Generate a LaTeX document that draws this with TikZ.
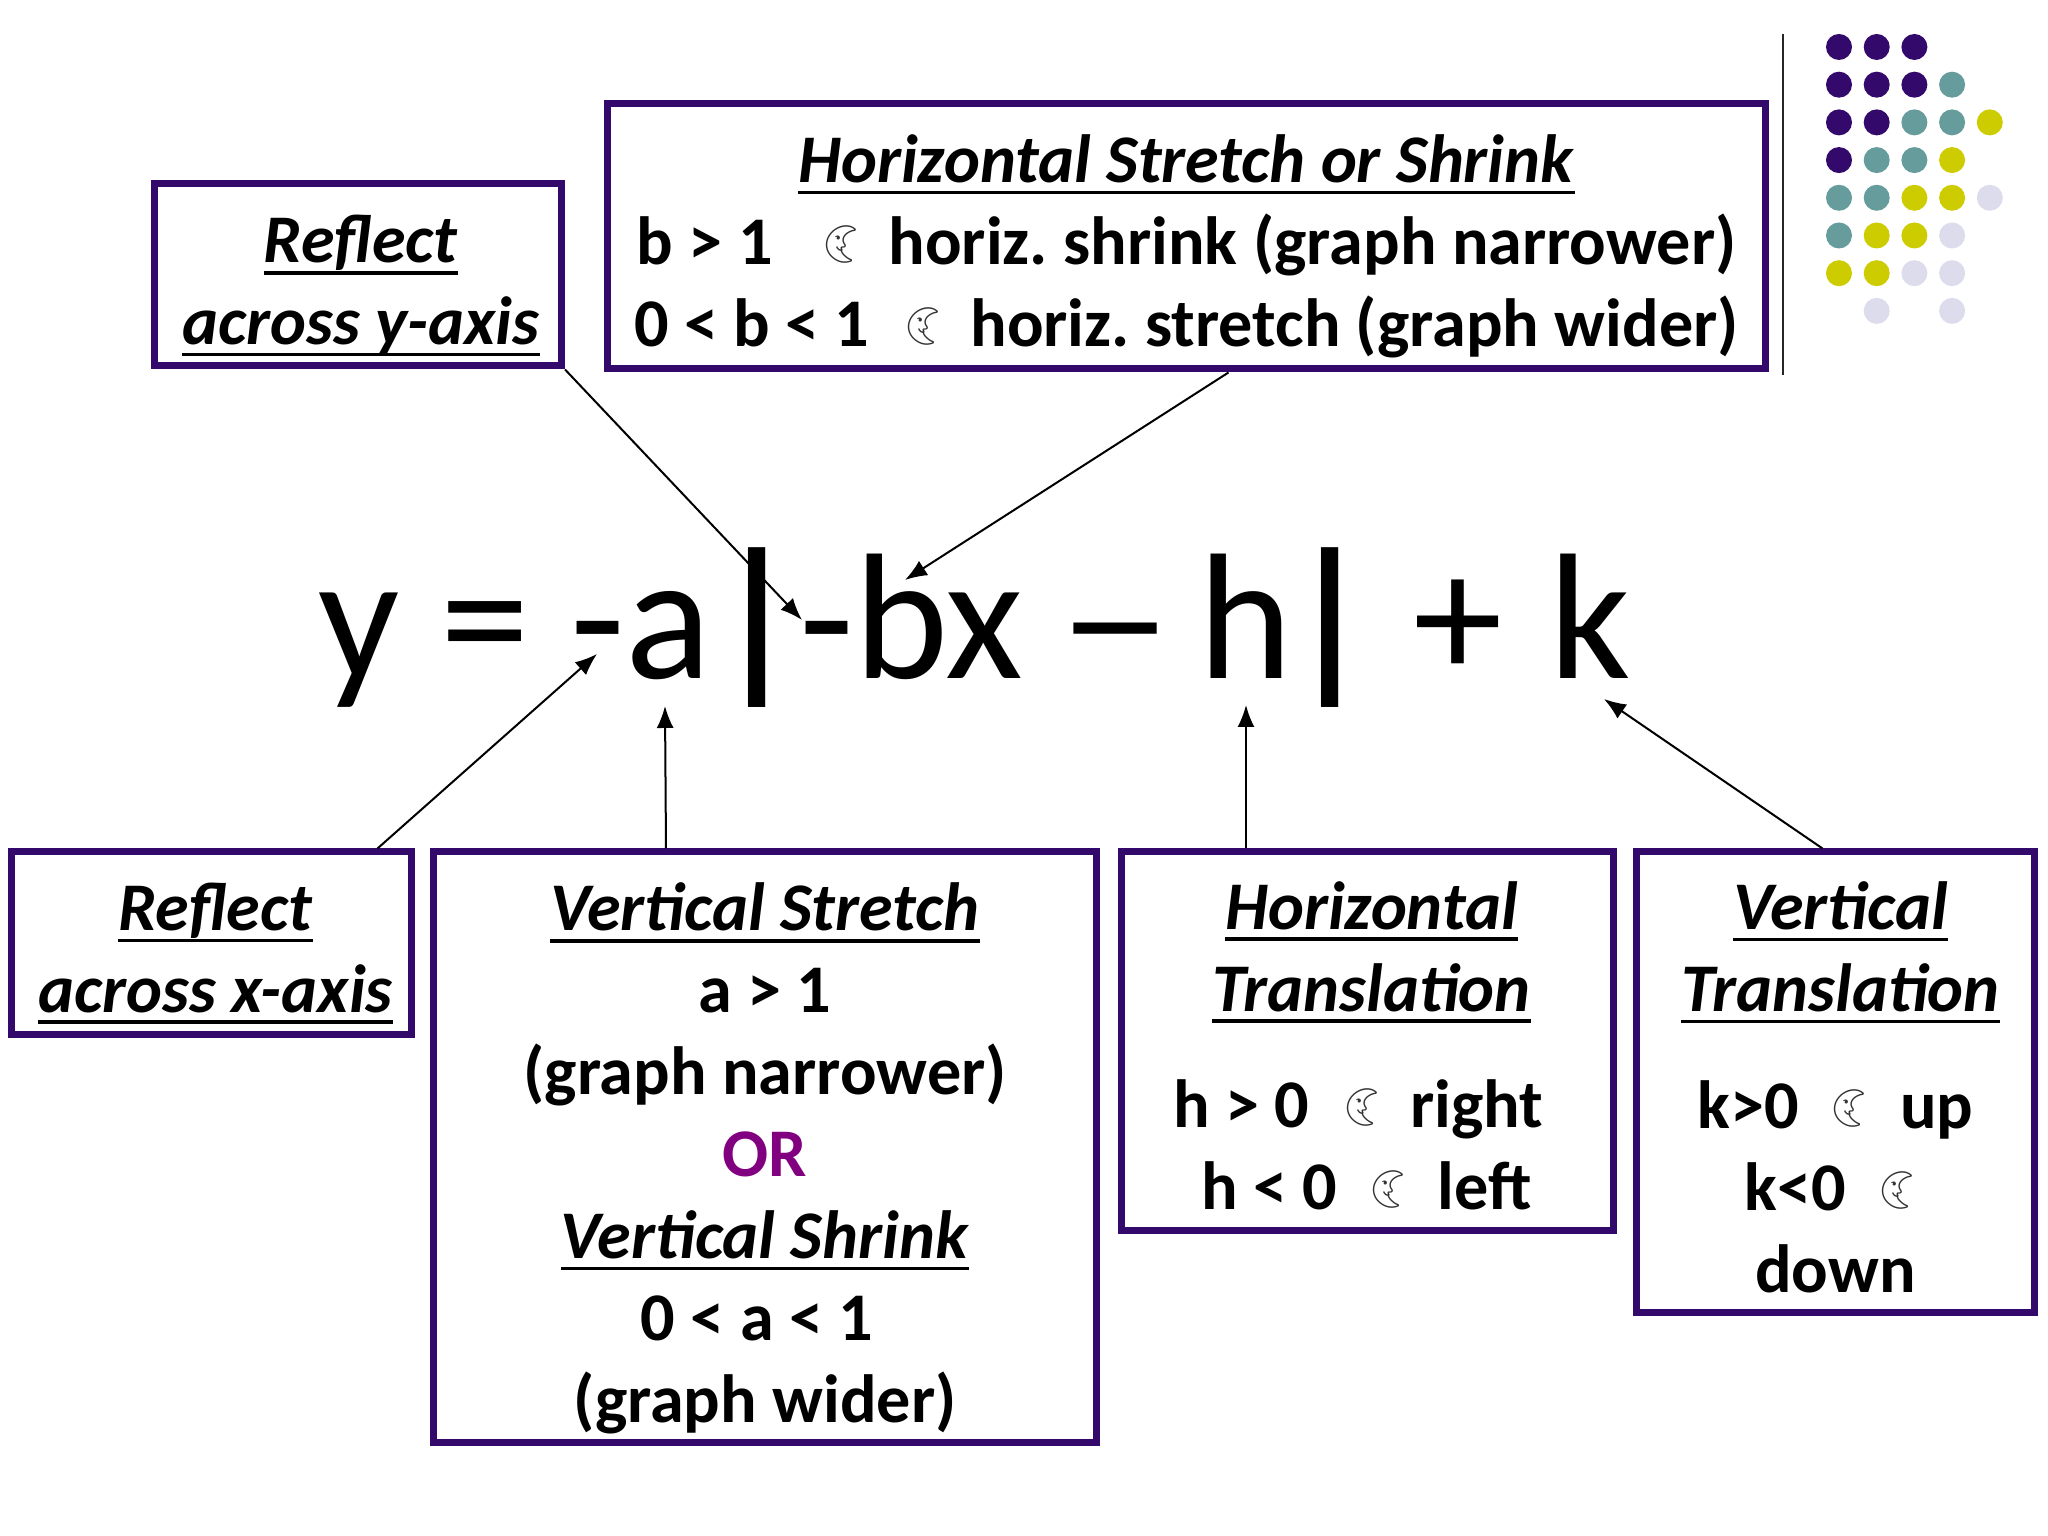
\documentclass[tikz,border=0pt]{standalone}
\usepackage{fontspec}
\setmainfont{Carlito}
\newfontfamily\moonfont{Noto Emoji}
\usetikzlibrary{arrows}
\usetikzlibrary{arrows.meta, positioning, calc}
\definecolor{boxpurple}{HTML}{330A6B}
\definecolor{dotteal}{HTML}{669C9C}
\definecolor{dotyellow}{HTML}{CCCC00}
\definecolor{dotlilac}{HTML}{DCDCEC}
\definecolor{orpurple}{HTML}{800080}
\newcommand{\moon}{\kern-0.13cm\raisebox{0.08cm}{\rotatebox[origin=c]{-40}{\moonfont\fontsize{10.5}{11}\selectfont\color{black!80}\symbol{"1F31C}}}\kern-0.20cm}
\newcommand{\headline}[1]{\setbox0\hbox{\textit{#1}}\rlap{\rule[-3.3pt]{\wd0}{1pt}}\box0}
\tikzset{
  rulebox/.style={draw=boxpurple, line width=0.07cm, inner sep=0pt},
  ruletext/.style={align=center, inner sep=0pt, font=\fontsize{19.4}{23.3}\selectfont\bfseries\frenchspacing},
  pointer/.style={-{Latex[length=0.22cm,width=0.17cm]}, line width=0.02cm, black},
  dot/.style={circle, inner sep=0pt, minimum size=0.26cm}
}
\begin{document}
\begin{tikzpicture}
      \useasboundingbox (0, 0) rectangle (20.48, 15.36);

      % the equation
      \node[anchor=base, font=\fontsize{51}{60}\selectfont, inner sep=0pt] (eqn) at (9.75, 8.57) {y = -a\kern1pt{\bfseries|}-bx\kern-1.8pt\ \scalebox{1.3}[1]{--}\ \kern-4.2pt h\kern-1.5pt{\bfseries|} + \kern1.8pt k};

      % boxes
      \node[rulebox, minimum width=4.07cm, minimum height=1.82cm] (reflecty) at (3.58, 12.61) {};
      \node[rulebox, minimum width=11.58cm, minimum height=2.65cm] (hstretch) at (11.865, 12.995) {};
      \node[rulebox, minimum width=4.00cm, minimum height=1.83cm] (reflectx) at (2.115, 5.925) {};
      \node[rulebox, minimum width=6.63cm, minimum height=5.91cm] (vstretch) at (7.65, 3.885) {};
      \node[rulebox, minimum width=4.92cm, minimum height=3.79cm] (htrans) at (13.675, 4.945) {};
      \node[rulebox, minimum width=3.98cm, minimum height=4.61cm] (vtrans) at (18.355, 4.535) {};

      % box texts
      \node[ruletext] (reflectytext) at ([xshift=0.03cm, yshift=-0.11cm]reflecty.center) {\headline{Reflect}\\\headline{across y-axis}};
      \node[ruletext] (hstretchtext) at ([yshift=-0.10cm]hstretch.center) {\headline{Horizontal Stretch or Shrink}\\b > 1\hspace{0.55cm}\moon\hspace{0.34cm}horiz. shrink (graph narrower)\\0 < b < 1\hspace{0.40cm}\moon\hspace{0.34cm}horiz. stretch (graph wider)};
      \node[ruletext] (reflectxtext) at ([xshift=0.04cm, yshift=-0.10cm]reflectx.center) {\headline{Reflect}\\\headline{across x-axis}};
      \node[ruletext] (vstretchtext) at ([yshift=-0.11cm]vstretch.center) {\headline{Vertical Stretch}\\a > 1\\(graph narrower)\\\textcolor{orpurple}{OR}\\\headline{Vertical Shrink}\\0 < a < 1\kern0.16cm\\(graph wider)};
      \node[ruletext] (htranstext) at ([xshift=0.04cm, yshift=-0.085cm]htrans.center) {\headline{Horizontal}\\\headline{Translation}\\[0.35cm]h > 0\hspace{0.39cm}\moon\hspace{0.35cm}right\kern0.26cm\\h < 0\hspace{0.37cm}\moon\hspace{0.36cm}left\kern0.10cm};
      \node[ruletext] (vtranstext) at ([yshift=-0.05cm]vtrans.center) {\kern0.10cm\headline{Vertical}\\\kern0.10cm\headline{Translation}\\[0.35cm]k>0\hspace{0.37cm}\moon\hspace{0.37cm}up\\k<0\hspace{0.37cm}\moon\kern0.16cm\\down};

      % arrow tips at the equation
      \coordinate (tipminusb) at (8.02, 9.16);
      \coordinate (tipb) at (9.05, 9.56);
      \coordinate (tipminusa) at (5.97, 8.82);
      \coordinate (tipa) at (6.65, 8.30);
      \coordinate (tiph) at (12.46, 8.31);
      \coordinate (tipk) at (16.04, 8.37);

      \draw[pointer] (reflecty.south east) -- (tipminusb);
      \draw[pointer] ([xshift=0.42cm]hstretch.south) -- (tipb);
      \draw[pointer] ([xshift=1.66cm]reflectx.north) -- (tipminusa);
      \draw[pointer] ([xshift=-0.99cm]vstretch.north) -- (tipa);
      \draw[pointer] ([xshift=-1.215cm]htrans.north) -- (tiph);
      \draw[pointer] ([xshift=-0.13cm]vtrans.north) -- (tipk);

      % corner decoration
      \coordinate (ruletop) at (17.83, 15.02);
      \coordinate (rulebottom) at (17.83, 11.61);
      \draw[line width=0.02cm, black!85] (ruletop) -- (rulebottom);

      \foreach \col/\row/\shade in {0/0/boxpurple, 1/0/boxpurple, 2/0/boxpurple,
          0/1/boxpurple, 1/1/boxpurple, 2/1/boxpurple, 3/1/dotteal,
          0/2/boxpurple, 1/2/boxpurple, 2/2/dotteal, 3/2/dotteal, 4/2/dotyellow,
          0/3/boxpurple, 1/3/dotteal, 2/3/dotteal, 3/3/dotyellow,
          0/4/dotteal, 1/4/dotteal, 2/4/dotyellow, 3/4/dotyellow, 4/4/dotlilac,
          0/5/dotteal, 1/5/dotyellow, 2/5/dotyellow, 3/5/dotlilac,
          0/6/dotyellow, 1/6/dotyellow, 2/6/dotlilac, 3/6/dotlilac,
          1/7/dotlilac, 3/7/dotlilac} {
        \node[dot, fill=\shade] (dot\col\row) at ({18.39 + 0.377*\col}, {14.89 - 0.377*\row}) {};
      }
    \end{tikzpicture}
\end{document}
